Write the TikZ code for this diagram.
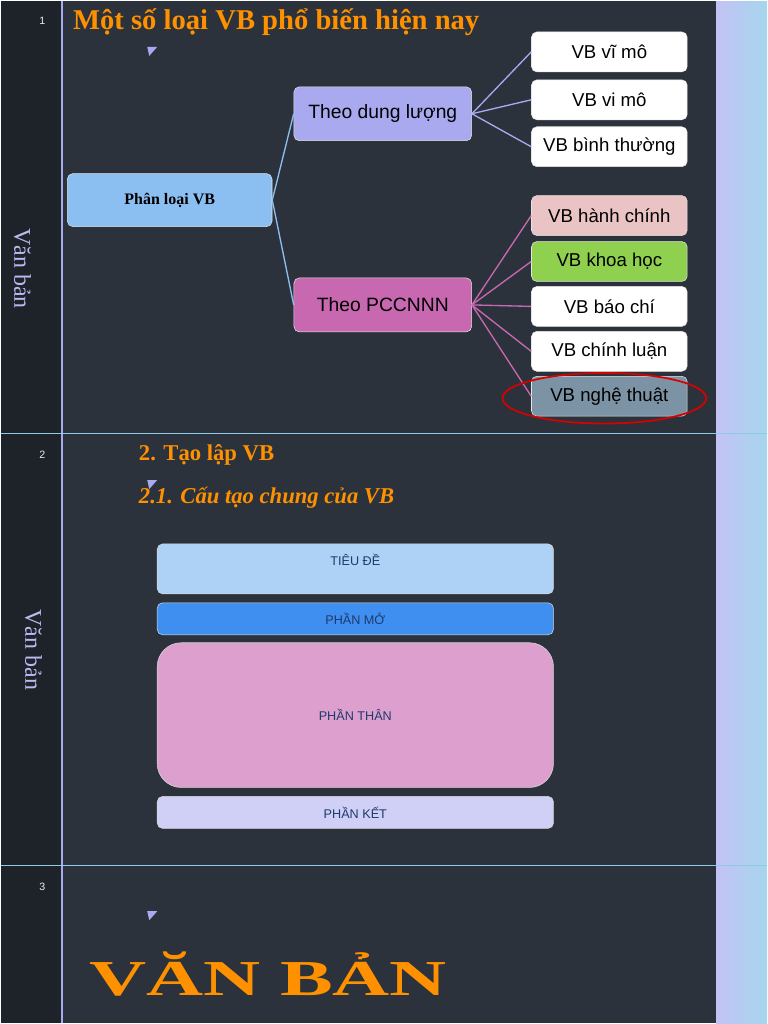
\documentclass[tikz,border=0pt]{standalone}
\usepackage{fontspec}
\setmainfont{Liberation Serif}
\setsansfont{Liberation Sans}
\usetikzlibrary{positioning,shapes.geometric}
\definecolor{bgdark}{HTML}{2B323B}
\definecolor{bgside}{HTML}{1E2329}
\definecolor{lav}{HTML}{A9A9EF}
\definecolor{sep}{HTML}{8FCBE8}
\definecolor{orng}{HTML}{FF9100}
\definecolor{rootblue}{HTML}{8BBFF2}
\definecolor{magenta}{HTML}{C868B0}
\definecolor{pinkish}{HTML}{EAC4C4}
\definecolor{greenish}{HTML}{8FD14F}
\definecolor{slate}{HTML}{7B93A5}
\definecolor{navy}{HTML}{1F3A6E}
\definecolor{openblue}{HTML}{3F8FF0}
\definecolor{bodypink}{HTML}{DDA0CE}
\tikzset{
  box/.style={draw=white!80!gray, rounded corners=4pt, font=\sffamily\fontsize{14}{16}\selectfont, text=black, inner sep=0pt},
  leaf/.style={box, fill=white, minimum width=117pt, minimum height=30pt},
  mid/.style={box, minimum width=133.5pt, minimum height=40.5pt, font=\sffamily\fontsize{14.5}{16}\selectfont},
  part/.style={draw=white!70!gray, rounded corners=4pt, minimum width=297.75pt, font=\sffamily\fontsize{9.5}{11}\selectfont, text=navy, inner sep=0pt},
  tick/.style={fill=lav, draw=none},
  title/.style={text=orng, font=\bfseries\fontsize{21.5}{24}\selectfont, anchor=west},
  num/.style={text=white!85!gray, font=\sffamily\fontsize{8}{9}\selectfont},
  side/.style={text=lav!80!white, font=\fontsize{18}{20}\selectfont, rotate=-90}
}
\begin{document}
\begin{tikzpicture}[x=0.75pt,y=-0.75pt]
  % background
  \fill[bgdark] (0,0) rectangle (768,1024);
  \fill[bgside] (0,0) rectangle (62,1024);
  \shade[left color=lav!70!white, right color=sep!80!white] (717,0) rectangle (768,1024);
  \draw[lav, line width=1.5pt] (62,0) -- (62,1024);
  \draw[sep, line width=0.8pt] (0,433) -- (768,433);
  \draw[sep, line width=0.8pt] (0,866) -- (768,866);
  \node[num] (n1) at (42,20) {1};
  \node[num] (n2) at (42,455) {2};
  \node[num] (n3) at (42,888) {3};
  \node[side] (s1) at (22,268) {Văn bản};
  \node[side] (s2) at (33,650) {Văn bản};
  \foreach \y in {46,480,912}
    \fill[tick] (147,\y) -- (157,\y) -- (149,\y+9) -- cycle;

  % slide 1
  \node[title] (t1) at (68,21) {Một số loại VB phổ biến hiện nay};
  \node[box, fill=rootblue, minimum width=153.75pt, minimum height=39.75pt,
        font=\bfseries\fontsize{12}{14}\selectfont] (root) at (169.5,199.5) {Phân loại VB};
  \node[mid, fill=lav] (dl) at (383,113) {Theo dung lượng};
  \node[mid, fill=magenta] (pc) at (383,304.5) {Theo PCCNNN};
  \node[leaf] (l1) at (610,51) {VB vĩ mô};
  \node[leaf] (l2) at (610,99) {VB vi mô};
  \node[leaf] (l3) at (610,146) {VB bình thường};
  \node[leaf, fill=pinkish] (l4) at (610,215) {VB hành chính};
  \node[leaf, fill=greenish] (l5) at (610,261) {VB khoa học};
  \node[leaf] (l6) at (610,306) {VB báo chí};
  \node[leaf] (l7) at (610,351) {VB chính luận};
  \node[leaf, fill=slate] (l8) at (610,396) {VB nghệ thuật};
  \draw[rootblue, line width=1pt] (root.east) -- (dl.west);
  \draw[rootblue, line width=1pt] (root.east) -- (pc.west);
  \foreach \n in {l1,l2,l3}
    \draw[lav, line width=1pt] (dl.east) -- (\n.west);
  \foreach \n in {l4,l5,l6,l7,l8}
    \draw[magenta, line width=1pt] (pc.east) -- (\n.west);
  \node[ellipse, draw=red!85!black, line width=1.3pt, minimum width=153pt, minimum height=38pt] (ring) at (605,398) {};

  % slide 2
  \node[title, font=\bfseries\fontsize{17}{19}\selectfont] (t2) at (134,455) {2. Tạo lập VB};
  \node[title, font=\bfseries\itshape\fontsize{17}{19}\selectfont] (t3) at (134,498) {2.1. Cấu tạo chung của VB};
  \node[part, fill=rootblue!70!white, minimum height=37.5pt] (head) at (355.5,569) {};
  \node[navy, font=\sffamily\fontsize{9.5}{11}\selectfont] (headtxt) at (355.5,560) {TIÊU ĐỀ};
  \node[part, fill=openblue, minimum height=24pt] (open) at (355.5,619) {PHẦN MỞ};
  \node[part, fill=bodypink, minimum height=108.75pt, rounded corners=18pt] (body) at (355.5,715.5) {PHẦN THÂN};
  \node[part, fill=lav!55!white, minimum height=24pt] (close) at (355.5,813) {PHẦN KẾT};

  % slide 3
  \node[text=orng, anchor=west, font=\bfseries\fontsize{36}{40}\selectfont] (big) at (84,975)
    {\scalebox{1.65}[1.05]{VĂN BẢN}};
\end{tikzpicture}
\end{document}
